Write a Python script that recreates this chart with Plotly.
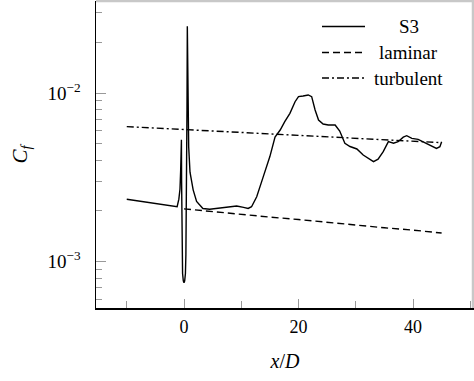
import plotly.graph_objects as go

# ---- data ----
s3_x = [-10, -5, -1.2, -0.9, -0.7, -0.58, -0.5, -0.45, -0.42, -0.38, -0.33, -0.25, -0.12, 0.0,
        0.12, 0.25, 0.33, 0.4, 0.46, 0.52, 0.58, 0.64, 0.72, 0.82, 1.05, 1.6, 2.2, 3.3, 4.5, 5.7,
        7.5, 9.2, 10.4, 11.2, 11.8, 12.7, 13.85, 15.0, 15.9, 16.8, 17.6, 18.5, 19.4, 20.0, 20.8,
        21.7, 22.3, 22.9, 23.5, 24.3, 25.2, 26.4, 27.2, 28.1, 29.0, 30.2, 31.3, 32.5, 33.1, 33.9,
        34.8, 35.7, 36.6, 37.4, 38.3, 38.9, 39.8, 40.9, 41.8, 43.0, 44.1, 44.7, 45.0]
s3_cf = [2.35e-3, 2.22e-3, 2.12e-3, 2.35e-3, 2.7e-3, 3.5e-3, 4.6e-3, 5.3e-3, 3.0e-3, 1.6e-3, 1.1e-3,
         8.5e-4, 7.7e-4, 7.5e-4, 7.7e-4, 8.5e-4, 1.1e-3, 1.8e-3, 3.5e-3, 8.0e-3, 2.5e-2, 1.2e-2,
         6.5e-3, 4.8e-3, 3.4e-3, 2.67e-3, 2.28e-3, 2.07e-3, 2.05e-3, 2.07e-3, 2.12e-3, 2.14e-3,
         2.10e-3, 2.07e-3, 2.12e-3, 2.43e-3, 3.20e-3, 4.21e-3, 5.50e-3, 6.05e-3, 6.78e-3, 7.60e-3,
         8.91e-3, 9.55e-3, 9.64e-3, 9.77e-3, 9.55e-3, 7.96e-3, 6.94e-3, 6.57e-3, 6.48e-3, 6.48e-3,
         5.97e-3, 5.05e-3, 4.83e-3, 4.67e-3, 4.30e-3, 4.02e-3, 3.93e-3, 4.06e-3, 4.50e-3, 5.16e-3,
         5.05e-3, 5.16e-3, 5.49e-3, 5.60e-3, 5.40e-3, 5.33e-3, 5.16e-3, 4.93e-3, 4.71e-3, 4.82e-3,
         5.16e-3]

lam_x = [0, 5, 10, 15, 20, 25, 30, 35, 40, 45]
lam_cf = [2.06e-3, 1.98e-3, 1.91e-3, 1.84e-3, 1.78e-3, 1.71e-3, 1.65e-3, 1.59e-3, 1.54e-3, 1.48e-3]

turb_x = [-10, -5, 0, 5, 10, 15, 20, 25, 30, 35, 40, 45]
turb_cf = [6.34e-3, 6.21e-3, 6.09e-3, 5.97e-3, 5.85e-3, 5.74e-3, 5.62e-3, 5.51e-3, 5.41e-3,
           5.30e-3, 5.19e-3, 5.09e-3]

series_names = ["S3", "laminar", "turbulent"]
x_tickvals = [0, 20, 40]
x_minorvals = [-10, 10, 30, 50]
y_tickvals = [1e-3, 1e-2]
y_ticktext = ["10<sup>−3</sup>", "10<sup>−2</sup>"]
y_minorvals = [6e-4, 7e-4, 8e-4, 9e-4, 2e-3, 3e-3, 4e-3, 5e-3, 6e-3, 7e-3, 8e-3, 9e-3,
               2e-2, 3e-2]

FONT = "'Liberation Serif', 'DejaVu Serif', serif"
dashes = ["solid", "7px,4px", "7px,3px,2px,3px"]

fig = go.Figure()
fig.add_trace(go.Scatter(x=s3_x, y=s3_cf, mode="lines", name=series_names[0],
                         line=dict(color="black", width=1.4, dash=dashes[0]), showlegend=False))
fig.add_trace(go.Scatter(x=lam_x, y=lam_cf, mode="lines", name=series_names[1],
                         line=dict(color="black", width=1.4, dash=dashes[1]), showlegend=False))
fig.add_trace(go.Scatter(x=turb_x, y=turb_cf, mode="lines", name=series_names[2],
                         line=dict(color="black", width=1.4, dash=dashes[2]), showlegend=False))

# plot area in pixels: x 96..474, y 1..308
L, R, T, B = 96, 0, 1, 73
W, H = 474 - L - R, 381 - T - B

def px2paper_x(px):
    return (px - L) / W

def py2paper_y(py):
    return (381 - B - py) / H

# manual legend (centered text like the reference)
rows_py = [26.5, 52.5, 78]
for name, dash, py in zip(series_names, dashes, rows_py):
    fig.add_shape(type="line", xref="paper", yref="paper",
                  x0=px2paper_x(322), x1=px2paper_x(365),
                  y0=py2paper_y(py), y1=py2paper_y(py),
                  line=dict(color="black", width=1.4, dash=dash))
    fig.add_annotation(xref="paper", yref="paper", x=px2paper_x(408.5), y=py2paper_y(py),
                       text=name, showarrow=False, xanchor="center", yanchor="middle",
                       font=dict(family=FONT, size=19, color="black"))

# light frame lines on top and right
fig.add_shape(type="line", xref="paper", yref="paper", x0=0, x1=1, y0=1, y1=1,
              line=dict(color="#c8c8c8", width=2.5))
fig.add_shape(type="line", xref="paper", yref="paper", x0=px2paper_x(473), x1=px2paper_x(473),
              y0=0, y1=1, line=dict(color="#c8c8c8", width=2.5))

fig.update_layout(
    width=474, height=381,
    margin=dict(l=L, r=R, t=T, b=B, autoexpand=False),
    paper_bgcolor="white", plot_bgcolor="white",
    hovermode=False,
    font=dict(family=FONT, size=16, color="black"),
    xaxis=dict(
        range=[-88 / 5.725, 290 / 5.725],
        automargin=False,
        tickvals=x_tickvals, ticktext=[str(v) for v in x_tickvals],
        ticks="inside", ticklen=9, tickwidth=1, tickcolor="#999999",
        minor=dict(tickvals=x_minorvals, ticks="inside", ticklen=7, tickwidth=1, tickcolor="#999999"),
        showgrid=False, zeroline=False,
        showline=True, linecolor="black", linewidth=1.5,
        tickfont=dict(family=FONT, size=18),
        ticklabelstandoff=2,
        title=dict(text="<i>x</i>/<i>D</i>", font=dict(family=FONT, size=20), standoff=18),
    ),
    yaxis=dict(
        type="log",
        range=[-3.275, -1.452],
        automargin=False,
        tickvals=y_tickvals, ticktext=y_ticktext,
        ticks="inside", ticklen=10, tickwidth=1, tickcolor="#999999",
        minor=dict(tickvals=y_minorvals, ticks="inside", ticklen=6, tickwidth=1, tickcolor="#999999"),
        showgrid=False, zeroline=False,
        showline=True, linecolor="black", linewidth=1.5,
        tickfont=dict(family=FONT, size=19),
        ticklabelstandoff=10,
        title=dict(text="<i>C</i><sub><i>f</i></sub>", font=dict(family=FONT, size=21), standoff=14),
    ),
)

fig.write_html(
    "out.html",
    config={"displayModeBar": False, "staticPlot": True},
    post_script="document.body.style.margin='0';document.body.style.padding='0';"
                "document.body.style.overflow='hidden';",
)
